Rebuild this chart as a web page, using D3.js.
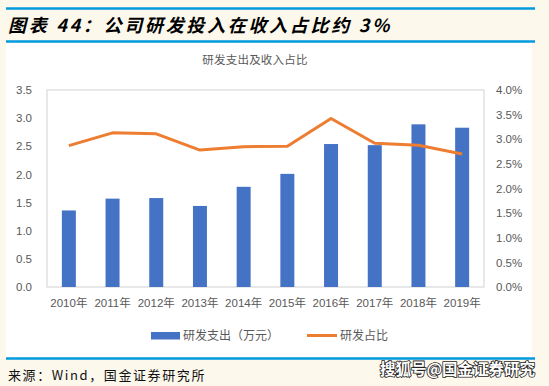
<!DOCTYPE html>
<html>
<head>
<meta charset="utf-8">
<script src="https://cdn.jsdelivr.net/npm/d3@7"></script>
<style>
  body { margin: 0; background: #fdf8ec; }
  svg { display: block; }
  text { font-family: "Liberation Sans", "Noto Sans CJK SC", sans-serif; }
  .tick text { fill: #595959; font-size: 11.5px; }
</style>
</head>
<body>
<svg width="549" height="386"></svg>
<script>
const w = 549, h = 386;

// data
const years = ["2010年","2011年","2012年","2013年","2014年","2015年","2016年","2017年","2018年","2019年"];
const rdSpend = [1.36, 1.57, 1.58, 1.44, 1.78, 2.01, 2.54, 2.52, 2.89, 2.83];
const rdRatio = [0.0287, 0.0313, 0.0311, 0.0278, 0.0285, 0.0286, 0.0342, 0.0292, 0.0288, 0.0270];
const leftTicks = [0, 0.5, 1, 1.5, 2, 2.5, 3, 3.5];
const rightTicks = [0, 0.005, 0.01, 0.015, 0.02, 0.025, 0.03, 0.035, 0.04];

const plot = {l: 47, r: 484, t: 90, b: 287};

const svg = d3.select("svg");

// white panel + header/footer rules
svg.append("rect").attr("x", 6).attr("y", 42).attr("width", 526).attr("height", 316).attr("fill", "#fff");
svg.append("line").attr("x1", 6).attr("x2", 535).attr("y1", 8.5).attr("y2", 8.5)
   .attr("stroke", "#009ade").attr("stroke-width", 2.5);
svg.append("line").attr("x1", 6).attr("x2", 535).attr("y1", 41.5).attr("y2", 41.5)
   .attr("stroke", "#009ade").attr("stroke-width", 2.5);
svg.append("line").attr("x1", 6).attr("x2", 535).attr("y1", 358.5).attr("y2", 358.5)
   .attr("stroke", "#009ade").attr("stroke-width", 2.5);

svg.append("text").attr("x", 8).attr("y", 32)
   .style("font-family", "'Noto Sans CJK SC', sans-serif")
   .style("font-size", "18px").style("font-weight", "bold").style("font-style", "italic")
   .style("letter-spacing", "2.7px")
   .text("图表 44：公司研发投入在收入占比约 3%");

svg.append("text").attr("x", 8).attr("y", 380)
   .style("font-family", "'Noto Sans CJK SC', sans-serif")
   .style("font-size", "13px").style("letter-spacing", "1.6px").attr("fill", "#111")
   .text("来源：Wind，国金证券研究所");

// scales
const x = d3.scaleBand().domain(years).range([plot.l, plot.r]).paddingInner(0.68).paddingOuter(0.34);
const yL = d3.scaleLinear().domain([0, 3.5]).range([plot.b, plot.t]);
const yR = d3.scaleLinear().domain([0, 0.04]).range([plot.b, plot.t]);

// chart title
svg.append("text").attr("x", 255).attr("y", 64).attr("text-anchor", "middle")
   .attr("fill", "#595959").style("font-size", "11.5px").style("letter-spacing", "0.2px")
   .text("研发支出及收入占比");

// plot border
svg.append("rect").attr("x", plot.l).attr("y", plot.t)
   .attr("width", plot.r - plot.l).attr("height", plot.b - plot.t)
   .attr("fill", "none").attr("stroke", "#d9d9d9").attr("stroke-width", 1.2);

// axes
const axL = svg.append("g").attr("transform", `translate(${plot.l},0)`)
   .call(d3.axisLeft(yL).tickValues(leftTicks).tickFormat(d3.format(".1f")).tickSize(0).tickPadding(15));
const axR = svg.append("g").attr("transform", `translate(${plot.r},0)`)
   .call(d3.axisRight(yR).tickValues(rightTicks).tickFormat(d3.format(".1%")).tickSize(0).tickPadding(12));
const axB = svg.append("g").attr("transform", `translate(0,${plot.b})`)
   .call(d3.axisBottom(x).tickSize(0).tickPadding(12));
[axL, axR, axB].forEach(g => g.select(".domain").remove());

// bars
svg.selectAll("rect.bar").data(years).join("rect").attr("class", "bar")
   .attr("x", d => x(d)).attr("width", x.bandwidth())
   .attr("y", (d, i) => yL(rdSpend[i])).attr("height", (d, i) => plot.b - yL(rdSpend[i]))
   .attr("fill", "#4472c4");

// line
const line = d3.line().x((d, i) => x(years[i]) + x.bandwidth() / 2).y(d => yR(d));
svg.append("path").datum(rdRatio).attr("d", line)
   .attr("fill", "none").attr("stroke", "#ed7d31").attr("stroke-width", 3).attr("stroke-linejoin", "round");

// legend
const legend = svg.append("g").style("font-size", "12px").attr("fill", "#595959");
legend.append("rect").attr("x", 151).attr("y", 332).attr("width", 29).attr("height", 7.5).attr("fill", "#4472c4");
legend.append("text").attr("x", 183).attr("y", 340).text("研发支出（万元）");
legend.append("line").attr("x1", 307).attr("x2", 337).attr("y1", 335.5).attr("y2", 335.5)
   .attr("stroke", "#ed7d31").attr("stroke-width", 3);
legend.append("text").attr("x", 340).attr("y", 340).text("研发占比");

// watermark
svg.append("text").attr("x", 380).attr("y", 375)
   .style("font-family", "'Noto Sans CJK SC', sans-serif")
   .style("font-size", "15.5px").style("font-weight", "bold")
   .attr("fill", "#fff").attr("stroke", "#222").attr("stroke-width", 1.6).attr("paint-order", "stroke")
   .text("搜狐号@国金证券研究");
</script>
</body>
</html>
